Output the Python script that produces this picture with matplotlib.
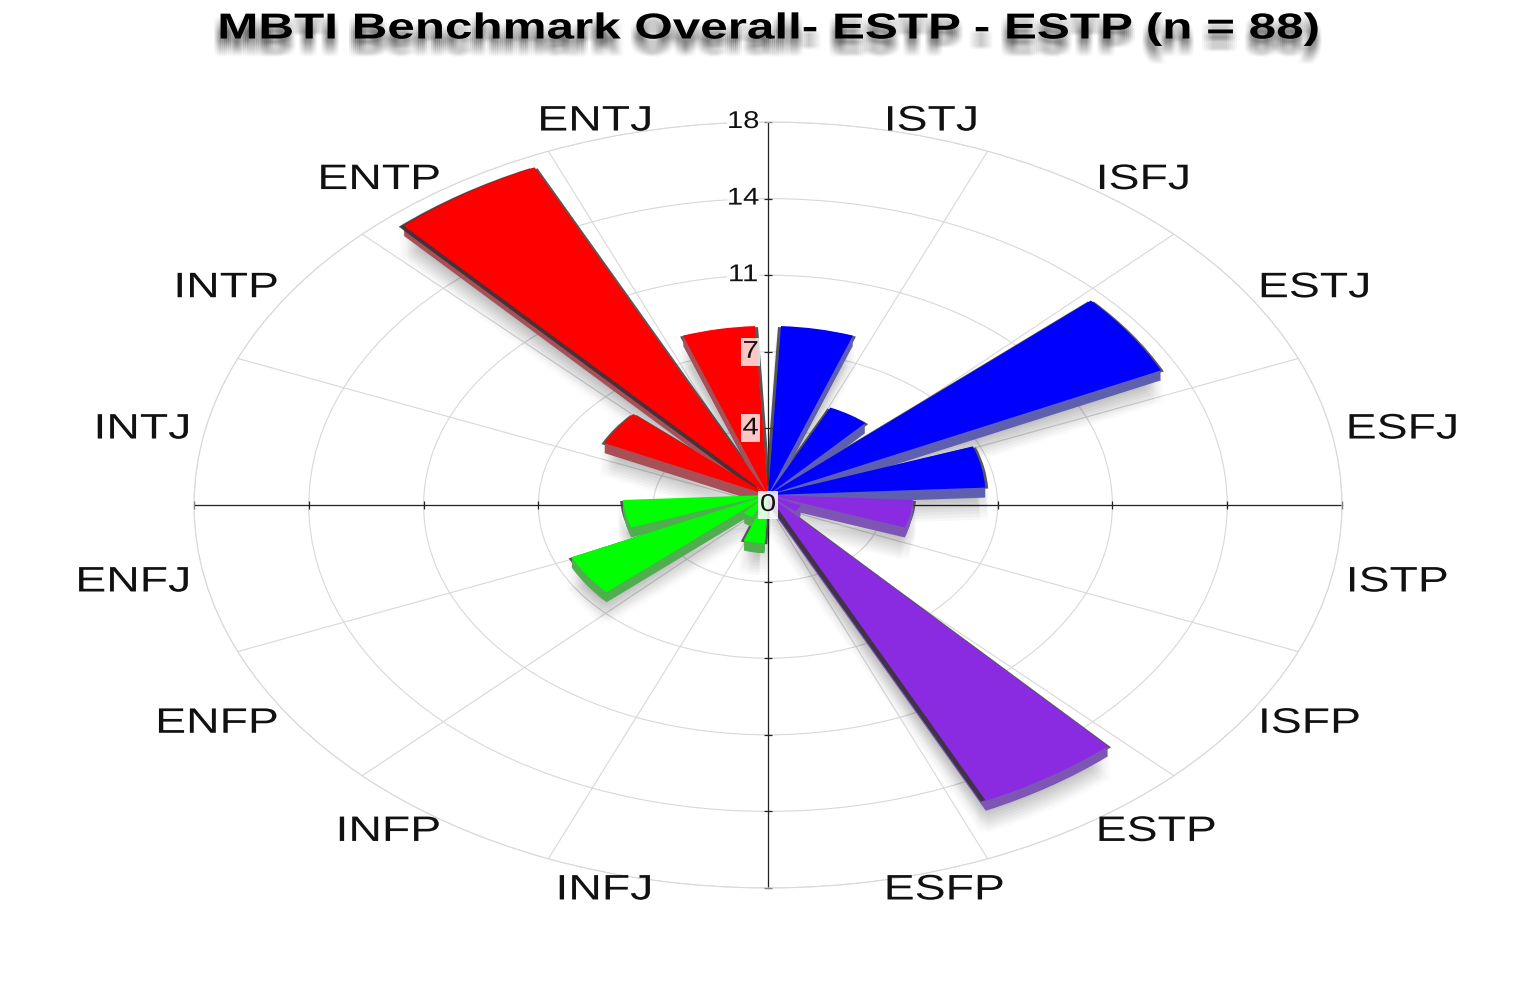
import numpy as np
import matplotlib
matplotlib.use("Agg")
import matplotlib.pyplot as plt
from matplotlib.patheffects import AbstractPathEffect
from matplotlib.transforms import Affine2D
from matplotlib.textpath import TextPath
from matplotlib.font_manager import FontProperties

# ---- data -------------------------------------------------------------
TITLE = "MBTI Benchmark Overall- ESTP - ESTP (n = 88)"
types = ["ISTJ", "ISFJ", "ESTJ", "ESFJ", "ISTP", "ISFP", "ESTP", "ESFP",
         "INFJ", "INFP", "ENFP", "ENFJ", "INTJ", "INTP", "ENTP", "ENTJ"]
percent = [7.95, 4.55, 13.64, 6.82, 4.55, 1.14, 15.91, 0.0,
           2.27, 1.14, 6.82, 4.55, 0.0, 5.68, 17.05, 7.95]
ring_values = [3.6, 7.2, 10.8, 14.4, 18.0]
ring_labels = ["4", "7", "11", "14", "18"]
r_max = 18.0

# ---- style ------------------------------------------------------------
top_colors = ["#0000FF"] * 4 + ["#8A2BE2"] * 4 + ["#00FF00"] * 4 + ["#FF0000"] * 4
side_colors = ["#5F5FB0"] * 4 + ["#7C55B5"] * 4 + ["#4FAF4F"] * 4 + ["#A85058"] * 4
dark_flank = ["ESTP", "ENTP"]
W, H, DPI = 1536, 983, 100
CX, CY, RX, RY = 768, 505, 574, 383
LABEL_SX = 1.31
NUM_SX = 1.2
LIFT = 10


class Stretch(AbstractPathEffect):
    """Widen real text horizontally; optionally lay a soft shadow under it."""

    def __init__(self, sx, anchor=0.0, shadow=False):
        super().__init__()
        self.sx, self.anchor, self.shadow = sx, anchor, shadow

    def draw_path(self, renderer, gc, tpath, affine, rgbFace=None):
        w = tpath.get_extents().x1 * self.anchor
        a = Affine2D().translate(-w, 0).scale(self.sx, 1).translate(w, 0) + affine
        if self.shadow:
            gc2 = renderer.new_gc()
            gc2.copy_properties(gc)
            gc2.set_linewidth(0)
            for dy in np.arange(-3, -19, -1.0):
                for dx in (-6, -4, -2, 0, 2, 4):
                    renderer.draw_path(gc2, tpath, a + Affine2D().translate(dx, dy),
                                       (0, 0, 0, 0.008))
            gc2.restore()
        renderer.draw_path(gc, tpath, a, rgbFace)


fig = plt.figure(figsize=(W / DPI, H / DPI), dpi=DPI, facecolor="white")
ax = fig.add_axes([(CX - RX) / W, (H - CY - RY) / H, 2 * RX / W, 2 * RY / H],
                  projection="polar")
ax.set_aspect("auto")
ax.set_theta_zero_location("N")
ax.set_theta_direction(-1)
ax.set_facecolor("none")

sector = np.deg2rad(22.5)
theta = (np.arange(len(types)) + 0.5) * sector
bar_width = sector * 0.74


def shifted(dx, dy):
    return ax.transData + Affine2D().translate(dx, dy)


def layer(dx, dy, colors, z, alpha=None, heights=None):
    ax.bar(theta, percent if heights is None else heights, width=bar_width, bottom=0,
           color=colors, linewidth=0, alpha=alpha, zorder=z, clip_on=False,
           transform=shifted(dx, dy))


# soft drop shadow
for dy in np.arange(2, -24, -3):
    for dx in (-5, 3):
        layer(dx, dy, "black", 1.5, alpha=0.016)
# dark rim behind the bars
for dx in (-3, 3):
    layer(dx, LIFT - 1, "#3c3c3c", 2, alpha=0.85)
# extruded side face
for dy in range(0, LIFT):
    layer(0, dy, side_colors, 3)
# darker left flank on the two long bars
flank_heights = [p if n in dark_flank else 0.0 for p, n in zip(percent, types)]
layer(-5, LIFT - 1, "#33282e", 3.5, alpha=0.8, heights=flank_heights)
# top face
layer(0, LIFT, top_colors, 4)

# grid
ax.set_xticks((np.arange(16)) * sector)
ax.set_xticklabels([])
ax.set_yticks(ring_values)
ax.set_yticklabels([])
ax.tick_params(length=0)
ax.grid(True, color="#d8d8d8", linewidth=0.8)
ax.set_axisbelow(True)
ax.spines["polar"].set_color("#d8d8d8")
ax.spines["polar"].set_linewidth(0.8)

# axis cross with ticks
for a0, a1 in ((0, np.pi), (np.pi / 2, 3 * np.pi / 2)):
    ax.plot([a0, a0], [0, r_max], color="#222222", lw=0.9, zorder=1.2, clip_on=False)
    ax.plot([a1, a1], [0, r_max], color="#222222", lw=0.9, zorder=1.2, clip_on=False)
for a, m in ((0, "_"), (np.pi, "_"), (np.pi / 2, "|"), (3 * np.pi / 2, "|")):
    ax.plot([a] * len(ring_values), ring_values, ls="none", marker=m, ms=6, mew=0.9,
            color="#222222", zorder=1.2, clip_on=False)
ax.set_ylim(0, r_max)

# value labels
num_font = dict(family="Liberation Sans", fontsize=17.5, color="#111111",
                ha="center", va="center", zorder=6)
for val, lab in zip(ring_values, ring_labels):
    ax.annotate(lab, xy=(0, val), xytext=(-(10 + 7.5 * len(lab)), 0),
                textcoords="offset pixels", annotation_clip=False,
                bbox=dict(boxstyle="square,pad=0.12", fc="white", ec="none", alpha=0.78),
                path_effects=[Stretch(NUM_SX, 0.5)], **num_font)
ax.annotate("0", xy=(0, 0), xytext=(0, 0), textcoords="offset pixels",
            annotation_clip=False,
            bbox=dict(boxstyle="square,pad=0.12", fc="white", ec="none", alpha=0.85),
            path_effects=[Stretch(NUM_SX, 0.5)], **num_font)

# category labels
for t, name in zip(theta, types):
    s, c = np.sin(t), np.cos(t)
    right = s > 0
    ax.annotate(name, xy=(t, r_max),
                xytext=(np.sign(s) * (14 * abs(s) + 1), 3 + 9 * c),
                textcoords="offset pixels", annotation_clip=False,
                family="Liberation Sans", fontsize=25.5, color="#111111",
                ha="left" if right else "right", va="center_baseline",
                path_effects=[Stretch(LABEL_SX, 0.0 if right else 1.0)])

# title
title_fp = FontProperties(family="Liberation Sans", weight="bold", size=26)
natural = TextPath((0, 0), TITLE, prop=title_fp).get_extents().width * DPI / 72
fig.text(0.5, 1 - 25 / H, TITLE, fontproperties=title_fp, color="black",
         ha="center", va="center_baseline",
         path_effects=[Stretch(1097 / natural, 0.5, shadow=True)])

fig.savefig("out.png", dpi=DPI, facecolor="white")
